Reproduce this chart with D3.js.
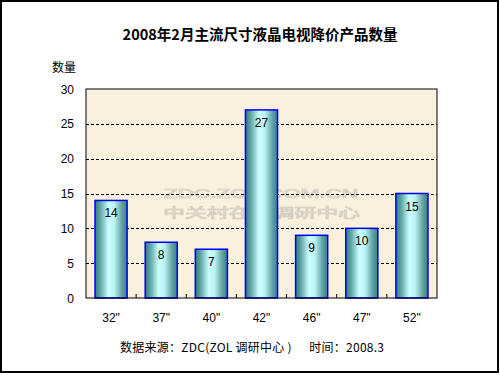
<!DOCTYPE html>
<html><head><meta charset="utf-8">
<script src="https://cdn.jsdelivr.net/npm/d3@7/dist/d3.min.js"></script>
<style>body{margin:0;background:#fff}svg{display:block}</style>
</head><body>
<script>
const categories = ['32"', '37"', '40"', '42"', '46"', '47"', '52"'];
const values = [14, 8, 7, 27, 9, 10, 15];
const yTicks = [0, 5, 10, 15, 20, 25, 30];
const title = "2008年2月主流尺寸液晶电视降价产品数量";
const yTitle = "数量";
const footnote = "数据来源：ZDC(ZOL 调研中心 )      时间：2008.3";

(function () {
const W = 500, H = 375;
const svg = d3.select("body").append("svg").attr("width", W).attr("height", H);
const defs = svg.append("defs");
const g = defs.append("linearGradient").attr("id", "barG").attr("x1", "0").attr("x2", "1").attr("y1", "0").attr("y2", "0");
[[0, "#2f7a7a"], [0.18, "#66aaaa"], [0.42, "#ccffff"], [0.6, "#bdf2f2"], [0.85, "#5e9f9f"], [1, "#3a8080"]]
  .forEach(([o, c]) => g.append("stop").attr("offset", o).attr("stop-color", c));

svg.append("rect").attr("x", 1).attr("y", 1).attr("width", W - 3).attr("height", H - 4)
  .attr("fill", "#fff").attr("stroke", "#000").attr("stroke-width", 2);

const pL = 86, pR = 437, pT = 89, pB = 298;
const x = d3.scaleBand().domain(categories).range([pL, pR]).paddingInner(0.36).paddingOuter(0.18);
const xb = d3.scaleBand().domain(categories).range([pL, pR]);
const y = d3.scaleLinear().domain([0, 30]).range([pB, pT]);

svg.append("rect").attr("x", pL).attr("y", pT).attr("width", pR - pL).attr("height", pB - pT)
  .attr("fill", "#f9f0dd");

// watermark
const wm = svg.append("g").attr("fill", "none").attr("stroke", "#d3cbbd").attr("stroke-width", 0.7)
  .attr("font-family", "Arial, 'Liberation Sans', sans-serif");
wm.append("text").attr("x", 164).attr("y", 198).attr("font-size", 13).attr("textLength", 194)
  .attr("lengthAdjust", "spacingAndGlyphs").text("ZDC.ZOL.COM.CN");
wm.append("text").attr("x", 163).attr("y", 217).attr("font-size", 13).attr("textLength", 197)
  .attr("lengthAdjust", "spacingAndGlyphs").attr("font-family", "'Noto Sans CJK SC', sans-serif").text("中关村在线调研中心");

// gridlines
svg.append("g").selectAll("line").data(yTicks.filter(d => d > 0 && d < 30)).join("line")
  .attr("x1", pL).attr("x2", pR).attr("y1", d => Math.round(y(d)) + 0.5).attr("y2", d => Math.round(y(d)) + 0.5)
  .attr("stroke", "#000").attr("stroke-dasharray", "3,2");

// bars
svg.append("g").selectAll("rect").data(values).join("rect")
  .attr("x", (d, i) => x(categories[i])).attr("width", x.bandwidth())
  .attr("y", d => y(d)).attr("height", d => pB - y(d))
  .attr("fill", "url(#barG)").attr("stroke", "#0000ff").attr("stroke-width", 1.5);

svg.append("g").selectAll("text").data(values).join("text")
  .attr("x", (d, i) => x(categories[i]) + x.bandwidth() / 2).attr("y", d => y(d) + 17)
  .attr("text-anchor", "middle").attr("font-family", "Arial, 'Liberation Sans', sans-serif").attr("font-size", 12)
  .attr("fill", "#000").text(d => d);

// plot frame
svg.append("rect").attr("x", pL).attr("y", pT).attr("width", pR - pL).attr("height", pB - pT)
  .attr("fill", "none").attr("stroke", "#000").attr("stroke-width", 1);

// x ticks (inside)
svg.append("g").selectAll("line").data(categories.slice(1)).join("line")
  .attr("x1", d => xb(d)).attr("x2", d => xb(d)).attr("y1", pB - 4).attr("y2", pB)
  .attr("stroke", "#000");

// y axis labels
svg.append("g").selectAll("text").data(yTicks).join("text")
  .attr("x", 74).attr("y", d => y(d) + 4.5).attr("text-anchor", "end")
  .attr("font-family", "Arial, 'Liberation Sans', sans-serif").attr("font-size", 12).attr("fill", "#000").text(d => d);

// x labels
svg.append("g").selectAll("text").data(categories).join("text")
  .attr("x", d => xb(d) + xb.bandwidth() / 2).attr("y", 322).attr("text-anchor", "middle")
  .attr("font-family", "Arial, 'Liberation Sans', sans-serif").attr("font-size", 12).attr("fill", "#000").text(d => d);

svg.append("text").attr("x", 260).attr("y", 40).attr("text-anchor", "middle")
  .attr("font-family", "'Noto Sans CJK SC', sans-serif").attr("font-weight", "bold").attr("font-size", 14.5)
  .attr("fill", "#000").text(title);

svg.append("text").attr("x", 64).attr("y", 72).attr("text-anchor", "middle")
  .attr("font-family", "'Noto Sans CJK SC', sans-serif").attr("font-size", 12).attr("fill", "#000").text(yTitle);

svg.append("text").attr("x", 120).attr("y", 352)
  .attr("font-family", "'Noto Sans CJK SC', Arial, sans-serif").attr("font-size", 12).attr("fill", "#000")
  .attr("textLength", 264).attr("lengthAdjust", "spacing")
  .attr("xml:space", "preserve").style("white-space", "pre").text(footnote);
})();
</script>
</body></html>
